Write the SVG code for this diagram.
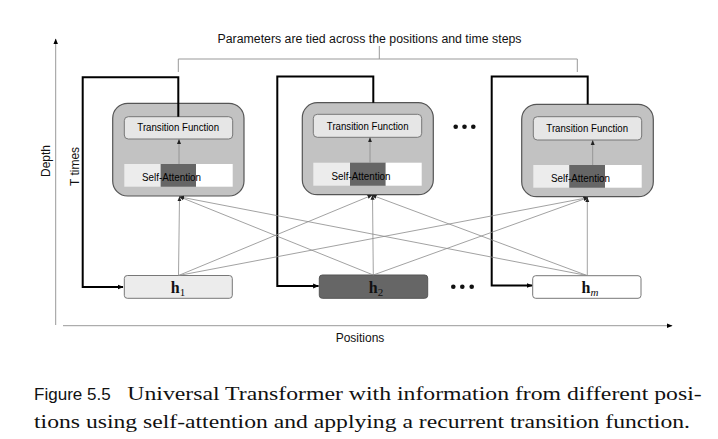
<svg xmlns="http://www.w3.org/2000/svg" width="718" height="439" viewBox="0 0 718 439">
<style>
.sans{font-family:"Liberation Sans","DejaVu Sans",sans-serif;fill:#111}
.serif{font-family:"Liberation Serif","DejaVu Serif",serif;fill:#111}
.outer{fill:#c2c2c2;stroke:#555;stroke-width:1.2}
.trans{fill:#e6e6e6;stroke:#777;stroke-width:1}
.loop{fill:none;stroke:#000;stroke-width:2}
.att{fill:none;stroke:#8a8a8a;stroke-width:0.8}
.axis{fill:none;stroke:#999;stroke-width:1}
.brk{fill:none;stroke:#999;stroke-width:1}
.box{font-size:10px;fill:#000}
.h{font-family:"Liberation Serif","DejaVu Serif",serif;font-weight:bold;font-size:16px;fill:#111}
.sub{font-family:"Liberation Serif","DejaVu Serif",serif;font-size:11px;fill:#111}
</style>
<defs>
<marker id="ah" viewBox="0 0 10 10" refX="9" refY="5" markerWidth="6" markerHeight="6" markerUnits="userSpaceOnUse" orient="auto"><path d="M0,1 L10,5 L0,9 z" fill="#000"/></marker>
<marker id="ahs" viewBox="0 0 10 10" refX="9" refY="5" markerWidth="5" markerHeight="5" markerUnits="userSpaceOnUse" orient="auto"><path d="M0,1 L10,5 L0,9 z" fill="#222"/></marker>
</defs>
<rect width="718" height="439" fill="#fff"/>

<!-- axes -->
<g id="axes">
<line class="axis" x1="55.7" y1="325" x2="55.7" y2="39" marker-end="url(#ah)"/>
<line class="axis" x1="63" y1="325.7" x2="672" y2="325.7" stroke="#aaa" stroke-width="1.3" marker-end="url(#ah)"/>
<text class="sans" x="360" y="341.5" font-size="12" text-anchor="middle">Positions</text>
<text class="sans" transform="translate(49.5,161) rotate(-90)" font-size="12" text-anchor="middle">Depth</text>
<text class="sans" transform="translate(79.3,166.5) rotate(-90)" font-size="12" text-anchor="middle">T times</text>
</g>

<!-- bracket -->
<g id="bracket">
<path class="brk" d="M178.3,72 V59 H577.3 V72 M379.3,46 V59"/>
<text class="sans" x="369.5" y="42.5" font-size="12.5" text-anchor="middle" textLength="304" lengthAdjust="spacingAndGlyphs">Parameters are tied across the positions and time steps</text>
</g>

<!-- block 1 -->
<g id="block1">
<rect class="outer" x="112.7" y="103.3" width="131.3" height="92.7" rx="15"/>
<rect class="trans" x="124.3" y="116.7" width="108.4" height="22.3" rx="4"/>
<text class="sans box" x="178.2" y="131.3" text-anchor="middle" textLength="81.7" lengthAdjust="spacingAndGlyphs">Transition Function</text>
<rect x="124.3" y="164" width="36.4" height="22.7" fill="#ececec"/>
<rect x="160.7" y="164" width="35.3" height="22.7" fill="#666"/>
<rect x="196" y="164" width="36.7" height="22.7" fill="#fff"/>
<text class="sans box" x="171.5" y="180.8" text-anchor="middle" textLength="59" lengthAdjust="spacingAndGlyphs">Self-Attention</text>
<line class="att" x1="179" y1="164" x2="179" y2="139.5" marker-end="url(#ahs)"/>
</g>

<!-- block 2 -->
<g id="block2">
<rect class="outer" x="302.3" y="102.7" width="131" height="92" rx="15"/>
<rect class="trans" x="313.3" y="114.3" width="108.4" height="23" rx="4"/>
<text class="sans box" x="367.7" y="130.3" text-anchor="middle" textLength="81.7" lengthAdjust="spacingAndGlyphs">Transition Function</text>
<rect x="313.3" y="162.7" width="36.7" height="23" fill="#ececec"/>
<rect x="350" y="162.7" width="35.7" height="23" fill="#666"/>
<rect x="385.7" y="162.7" width="36" height="23" fill="#fff"/>
<text class="sans box" x="361" y="179.8" text-anchor="middle" textLength="59" lengthAdjust="spacingAndGlyphs">Self-Attention</text>
<line class="att" x1="370" y1="162.7" x2="370" y2="137.8" marker-end="url(#ahs)"/>
</g>

<!-- block 3 -->
<g id="block3">
<rect class="outer" x="521.7" y="104.3" width="131.6" height="92.4" rx="15"/>
<rect class="trans" x="533.3" y="116.7" width="108.4" height="23.3" rx="4"/>
<text class="sans box" x="587.2" y="132.3" text-anchor="middle" textLength="81.7" lengthAdjust="spacingAndGlyphs">Transition Function</text>
<rect x="533.3" y="165" width="36" height="22.7" fill="#ececec"/>
<rect x="569.3" y="165" width="35.7" height="22.7" fill="#666"/>
<rect x="605" y="165" width="36.7" height="22.7" fill="#fff"/>
<text class="sans box" x="580.5" y="181.8" text-anchor="middle" textLength="59" lengthAdjust="spacingAndGlyphs">Self-Attention</text>
<line class="att" x1="592.7" y1="165" x2="592.7" y2="140.5" marker-end="url(#ahs)"/>
</g>

<!-- dots -->
<g id="dots" fill="#111">
<circle cx="455.7" cy="126.7" r="2.3"/><circle cx="464.5" cy="126.7" r="2.3"/><circle cx="473.3" cy="126.7" r="2.3"/>
<circle cx="453.3" cy="286.7" r="2.3"/><circle cx="462.3" cy="286.7" r="2.3"/><circle cx="471.7" cy="286.7" r="2.3"/>
</g>

<!-- hidden states -->
<g id="h1">
<rect x="124.3" y="275.5" width="108" height="22.8" rx="3" fill="#ececec" stroke="#777" stroke-width="1"/>
<text x="178" y="293" text-anchor="middle"><tspan class="h">h</tspan><tspan class="sub" dy="2.5">1</tspan></text>
</g>
<g id="h2">
<rect x="319.3" y="275" width="108.4" height="23.3" rx="3" fill="#666" stroke="#555" stroke-width="1"/>
<text x="376" y="293" text-anchor="middle"><tspan class="h">h</tspan><tspan class="sub" dy="2.5">2</tspan></text>
</g>
<g id="hm">
<rect x="532.7" y="275.7" width="108.3" height="22.6" rx="3" fill="#fff" stroke="#777" stroke-width="1"/>
<text x="590" y="293" text-anchor="middle"><tspan class="h">h</tspan><tspan class="sub" font-style="italic" dy="2.5">m</tspan></text>
</g>

<!-- connectors -->
<g id="connectors">
<path class="loop" d="M178.3,116.7 V77.3 H82.7 V287 H123" marker-end="url(#ah)"/>
<path class="loop" d="M373.3,102.7 V76.5 H277.3 V286 H318.5" marker-end="url(#ah)"/>
<path class="loop" d="M587.7,104.3 V76.5 H491.7 V285.5 H532" marker-end="url(#ah)"/>
<g class="att">
<line x1="178.5" y1="275.5" x2="179.5" y2="196.8" marker-end="url(#ahs)"/>
<line x1="178.5" y1="275.5" x2="372" y2="195.2" marker-end="url(#ahs)"/>
<line x1="178.5" y1="275.5" x2="588" y2="197.6" marker-end="url(#ahs)"/>
<line x1="373.3" y1="275" x2="179.5" y2="196.8" marker-end="url(#ahs)"/>
<line x1="373.3" y1="275" x2="372.5" y2="195.2" marker-end="url(#ahs)"/>
<line x1="373.3" y1="275" x2="588" y2="197.6" marker-end="url(#ahs)"/>
<line x1="587" y1="275.5" x2="179.5" y2="196.8" marker-end="url(#ahs)"/>
<line x1="587" y1="275.5" x2="372" y2="195.2" marker-end="url(#ahs)"/>
<line x1="587.3" y1="275.5" x2="587.3" y2="197.6" marker-end="url(#ahs)"/>
</g>
</g>

<!-- caption -->
<g id="caption">
<text class="sans" x="34" y="400" font-size="17" textLength="76.7" lengthAdjust="spacingAndGlyphs">Figure 5.5</text>
<text class="serif" x="127.3" y="400" font-size="18" fill="#222" textLength="574.4" lengthAdjust="spacingAndGlyphs">Universal Transformer with information from different posi-</text>
<text class="serif" x="34" y="427.5" font-size="18" fill="#222" textLength="656" lengthAdjust="spacingAndGlyphs">tions using self-attention and applying a recurrent transition function.</text>
</g>
</svg>
